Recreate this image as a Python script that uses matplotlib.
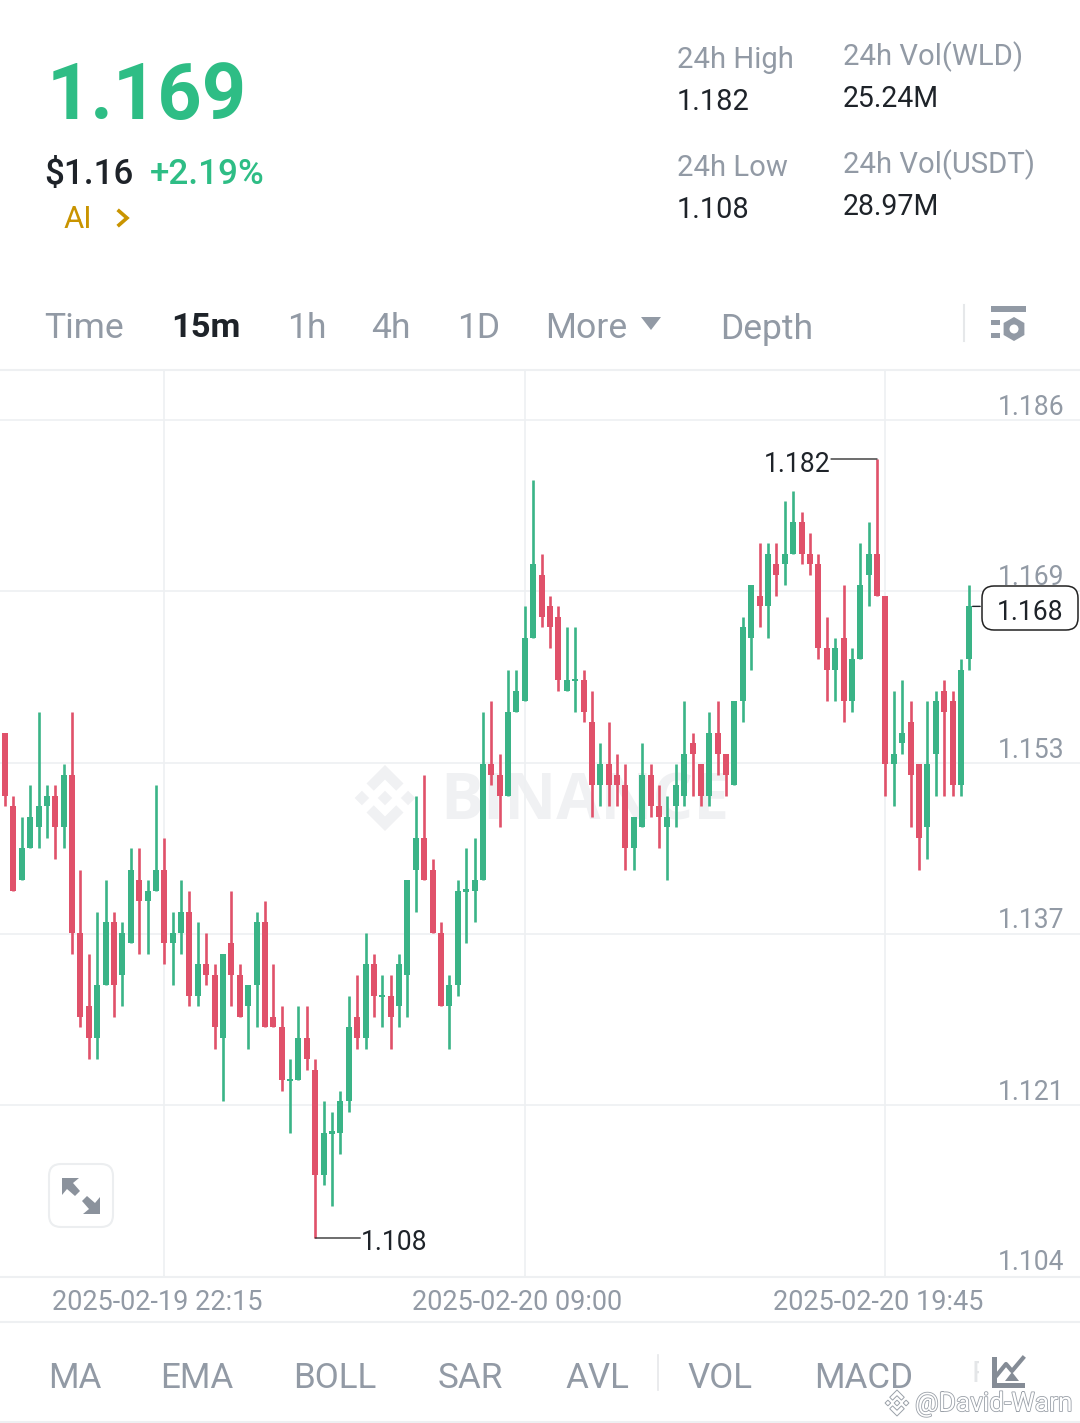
import matplotlib
matplotlib.use("Agg")
import matplotlib.pyplot as plt
import matplotlib.patheffects as pe
from matplotlib.patches import FancyBboxPatch, Polygon, Circle, RegularPolygon, Rectangle
from matplotlib.transforms import ScaledTranslation

# ---------- data (prices, read in 0.001 steps) ----------
opens = [1.156,1.149,1.142,1.145,1.147,1.149,1.150,1.147,1.152,1.137,1.130,1.127,1.132,1.138,1.133,1.136,1.142,1.140,1.141,1.143,
         1.136,1.137,1.139,1.131,1.134,1.133,1.127,1.136,1.133,1.130,1.132,1.138,1.129,1.128,1.123,1.123,1.127,1.124,1.114,1.118,
         1.118,1.121,1.129,1.127,1.134,1.131,1.131,1.130,1.133,1.143,1.146,1.143,1.137,1.130,1.132,1.141,1.141,1.142,1.153,1.152,
         1.150,1.158,1.159,1.165,1.171,1.168,1.167,1.160,1.161,1.161,1.157,1.151,1.153,1.152,1.151,1.145,1.147,1.152,1.149,1.147,
         1.149,1.150,1.155,1.153,1.150,1.156,1.154,1.151,1.159,1.165,1.169,1.168,1.172,1.172,1.173,1.176,1.173,1.172,1.164,1.162,
         1.165,1.159,1.163,1.171,1.173,1.169,1.153,1.155,1.157,1.153,1.147,1.154,1.160,1.159,1.151,1.163]
highs = [1.156,1.150,1.148,1.151,1.158,1.151,1.151,1.153,1.158,1.143,1.135,1.139,1.142,1.139,1.138,1.145,1.145,1.142,1.151,1.146,
         1.139,1.142,1.141,1.138,1.137,1.134,1.135,1.141,1.134,1.132,1.139,1.140,1.134,1.130,1.125,1.130,1.130,1.125,1.121,1.120,
         1.122,1.131,1.133,1.137,1.135,1.133,1.133,1.135,1.142,1.150,1.152,1.144,1.138,1.133,1.142,1.145,1.146,1.158,1.159,1.154,
         1.162,1.162,1.168,1.180,1.173,1.169,1.168,1.166,1.166,1.162,1.160,1.155,1.157,1.154,1.153,1.148,1.155,1.153,1.151,1.150,
         1.153,1.159,1.156,1.153,1.158,1.159,1.154,1.159,1.167,1.170,1.174,1.174,1.174,1.178,1.179,1.177,1.175,1.173,1.167,1.165,
         1.170,1.164,1.174,1.176,1.182,1.169,1.160,1.161,1.159,1.153,1.159,1.160,1.161,1.160,1.163,1.170]
lows = [1.149,1.141,1.142,1.145,1.145,1.146,1.144,1.145,1.135,1.128,1.125,1.125,1.132,1.129,1.130,1.136,1.135,1.135,1.141,1.134,
        1.132,1.135,1.130,1.130,1.132,1.126,1.121,1.130,1.129,1.126,1.128,1.128,1.128,1.122,1.118,1.123,1.124,1.108,1.113,1.111,
        1.116,1.120,1.126,1.126,1.129,1.128,1.126,1.128,1.129,1.139,1.142,1.137,1.130,1.126,1.131,1.136,1.138,1.142,1.151,1.147,
        1.150,1.158,1.159,1.165,1.166,1.164,1.160,1.160,1.158,1.157,1.148,1.149,1.149,1.149,1.143,1.143,1.147,1.148,1.145,1.142,
        1.147,1.149,1.150,1.149,1.149,1.152,1.150,1.151,1.157,1.162,1.166,1.165,1.169,1.170,1.173,1.172,1.171,1.163,1.159,1.159,
        1.157,1.158,1.163,1.168,1.169,1.150,1.149,1.154,1.147,1.143,1.144,1.150,1.150,1.150,1.150,1.162]
closes = [1.150,1.141,1.145,1.148,1.149,1.150,1.147,1.152,1.137,1.129,1.127,1.132,1.138,1.132,1.137,1.143,1.140,1.141,1.143,1.136,
          1.137,1.139,1.131,1.134,1.133,1.128,1.135,1.133,1.129,1.132,1.138,1.128,1.128,1.123,1.123,1.127,1.125,1.114,1.118,1.118,
          1.121,1.128,1.127,1.134,1.131,1.131,1.129,1.134,1.142,1.146,1.142,1.137,1.130,1.132,1.141,1.141,1.142,1.153,1.152,1.150,
          1.158,1.160,1.165,1.172,1.167,1.166,1.161,1.161,1.161,1.158,1.151,1.153,1.151,1.151,1.145,1.148,1.152,1.149,1.148,1.148,
          1.151,1.154,1.154,1.150,1.156,1.154,1.152,1.159,1.166,1.170,1.168,1.173,1.171,1.173,1.176,1.173,1.172,1.164,1.162,1.164,
          1.159,1.163,1.170,1.173,1.169,1.153,1.154,1.156,1.152,1.146,1.153,1.159,1.158,1.151,1.162,1.168]

y_grid_prices = [1.1857, 1.1695, 1.1531, 1.1369, 1.1206]
y_tick_labels = ["1.186", "1.169", "1.153", "1.137", "1.121"]
bottom_price = 1.1043
bottom_label = "1.104"
x_tick_index = [19, 62, 105]
x_tick_labels = ["2025-02-19 22:15", "2025-02-20 09:00", "2025-02-20 19:45"]
high_index, high_price, low_index, low_price = 104, 1.182, 37, 1.108
last_index, last_price = 115, 1.168

GREEN = "#3AB487"; RED = "#E0516A"; TXT_GREEN = "#2EBD85"
GRAY = "#929AA5"; DARK = "#1E2329"; GOLD = "#C99400"; LINE = "#EEF0F2"
FONT = "Roboto"

W, H = 1080, 1423
fig = plt.figure(figsize=(W/100, H/100), dpi=100, facecolor="white")
plt.rcParams["font.family"] = [FONT, "DejaVu Sans"]

def make_px_axes(z):
    a = fig.add_axes([0, 0, 1, 1], zorder=z)
    a.set_xlim(0, W); a.set_ylim(H, 0); a.axis("off"); a.patch.set_alpha(0)
    return a

under = make_px_axes(1)
ui = make_px_axes(3)

def T(a, x, y, s, px, color=GRAY, weight="normal", ha="left", **kw):
    return a.text(x, y+2, s, fontsize=px*0.72, color=color, fontweight=weight, ha=ha, va="center", **kw)

# ---------- watermark ----------
wm = "#F0F1F3"
cx, cy, r = 385, 798, 33
def logo(a, cx, cy, r, **kw):
    a.add_patch(Polygon([(cx, cy-.22*r), (cx+.22*r, cy), (cx, cy+.22*r), (cx-.22*r, cy)], **kw))
    for d in (-1, 1):
        c = cx + d*.7*r
        a.add_patch(Polygon([(c, cy-.22*r), (c+.22*r, cy), (c, cy+.22*r), (c-.22*r, cy)], **kw))
        pts = [(0, 1), (.56, .44), (.34, .22), (0, .56), (-.34, .22), (-.56, .44)]
        a.add_patch(Polygon([(cx+p*r, cy+d*q*r) for p, q in pts], **kw))
logo(under, cx, cy, r, fc=wm, ec="none")
T(under, 440, 801, "BINANCE", 64, color=wm, weight="bold", family="Open Sans")

# ---------- chart ----------
px_per_candle = 8.385
px_per_unit = 10527.0
ax = fig.add_axes([0, (H-1277)/H, 1, (1277-370)/H], zorder=2)
ax.patch.set_alpha(0)
ax.set_xlim(-5/px_per_candle, (W-5)/px_per_candle)
ax.set_ylim(1.182-(1277-459)/px_per_unit, 1.182-(370-459)/px_per_unit)
for s in ax.spines.values():
    s.set_visible(False)

xs = list(range(len(opens)))
cols = [GREEN if c >= o else RED for o, c in zip(opens, closes)]
ax.vlines(xs, lows, highs, colors=cols, lw=1.9, zorder=3)
for x, o, c, col in zip(xs, opens, closes, cols):
    lo, hi = min(o, c), max(o, c)
    if hi == lo:
        hi += 0.00012; lo -= 0.00012
    ax.bar(x, hi-lo, bottom=lo, width=6.0/px_per_candle, color=col, zorder=4, linewidth=0)

TICK_PX = 26.5
ax.set_yticks(y_grid_prices, y_tick_labels)
ax.set_xticks(x_tick_index, x_tick_labels)
ax.grid(True, color=LINE, lw=1.2, zorder=0)
ax.yaxis.tick_right()
ax.tick_params(axis="y", length=0, pad=-59, labelcolor=GRAY, labelsize=TICK_PX*0.72)
ax.tick_params(axis="x", length=0, pad=8.7, labelcolor=GRAY, labelsize=27*0.72)
for lb in ax.get_yticklabels():
    lb.set_ha("left")
    lb.set_transform(lb.get_transform()+ScaledTranslation(0, 16/100, fig.dpi_scale_trans))
for lb in ax.get_xticklabels():
    lb.set_transform(lb.get_transform()+ScaledTranslation(-7.5/100, 0, fig.dpi_scale_trans))

ax.annotate(bottom_label, xy=(1, bottom_price), xycoords=("axes fraction", "data"),
            xytext=(-82, 14), textcoords="offset pixels", color=GRAY, fontsize=TICK_PX*.72, va="center", ha="left")

# high / low / last labels
ax.annotate("", xy=(high_index, high_price), xytext=(-46, 0), textcoords="offset pixels",
            arrowprops=dict(arrowstyle="-", color="#333333", lw=1, shrinkA=0, shrinkB=0), zorder=6)
ax.annotate("1.182", xy=(high_index, high_price), xytext=(-46, -5), textcoords="offset pixels",
            ha="right", va="center", fontsize=26.5*.72, color=DARK, zorder=6)
ax.annotate("", xy=(low_index, low_price), xytext=(45, 0), textcoords="offset pixels",
            arrowprops=dict(arrowstyle="-", color="#333333", lw=1, shrinkA=0, shrinkB=0), zorder=6)
ax.annotate("1.108", xy=(low_index, low_price), xytext=(46, -5), textcoords="offset pixels",
            ha="left", va="center", fontsize=26.5*.72, color=DARK, zorder=6)
ax.annotate("", xy=(last_index+.4, last_price), xytext=(last_index+1.3, last_price),
            arrowprops=dict(arrowstyle="-", color=DARK, lw=1, shrinkA=0, shrinkB=0))

# ---------- separators ----------
for y in (370, 1277, 1322, 1422):
    ui.plot([0, W], [y, y], color=LINE, lw=1.5, solid_capstyle="butt")
ui.plot([964, 964], [305, 341], color="#E6E8EA", lw=1.5)
ui.plot([658, 658], [1355, 1390], color="#E6E8EA", lw=1.2)

# last price box
ui.add_patch(FancyBboxPatch((982+10, 586+10), 96-20, 44-20, boxstyle="round,pad=10,rounding_size=12",
                            fc="white", ec="#222", lw=1.1, zorder=5))
T(ui, 1030, 611, "1.168", 26.5, color=DARK, ha="center", zorder=6)

# ---------- header ----------
T(ui, 47, 96, "1.169", 77.5, color=TXT_GREEN, weight="bold")
T(ui, 44.5, 172, "$1.16", 35, color=DARK, weight="medium")
T(ui, 150, 172, "+2.19%", 35, color=TXT_GREEN, weight="medium")
T(ui, 63, 218, "AI", 31, color=GOLD)
ui.plot([119, 127, 119], [211, 218, 225], color=GOLD, lw=2.6, solid_joinstyle="miter")

T(ui, 677, 58, "24h High", 29.2)
T(ui, 677, 100, "1.182", 29, color=DARK)
T(ui, 677, 166, "24h Low", 29.2)
T(ui, 677, 208, "1.108", 29, color=DARK)
T(ui, 843, 55, "24h Vol(WLD)", 29.2)
T(ui, 843, 97, "25.24M", 28.5, color=DARK)
T(ui, 843, 163, "24h Vol(USDT)", 29.2)
T(ui, 843, 205, "28.97M", 28.5, color=DARK)

# ---------- tabs ----------
for x, s in [(44, "Time"), (287, "1h"), (371, "4h"), (457, "1D"), (545, "More"), (720, "Depth")]:
    T(ui, x, 327, s, 35.5)
T(ui, 171, 326, "15m", 34.5, color=DARK, weight="bold")
ui.add_patch(Polygon([(641, 317), (661, 317), (651, 330)], fc=GRAY, ec="none"))

# settings icon
ui.add_patch(Rectangle((991, 306), 35, 6, fc=GRAY, ec="none"))
ui.add_patch(Rectangle((991, 320), 9, 5, fc=GRAY, ec="none"))
ui.add_patch(Rectangle((991, 333), 9, 5, fc=GRAY, ec="none"))
ui.add_patch(RegularPolygon((1014, 329), 6, radius=12, fc=GRAY, ec="none"))
ui.add_patch(Circle((1014, 329), 4.5, fc="white", ec="none"))

# expand button
ui.add_patch(FancyBboxPatch((49+12, 1164+12), 64-24, 63-24, boxstyle="round,pad=12,rounding_size=12",
                            fc="white", ec="#ECEEF0", lw=1.5))
for d, (a0, b0) in ((1, (62, 1178)), (-1, (100, 1214))):
    ui.add_patch(Polygon([(a0, b0), (a0+d*17, b0), (a0+d*11, b0+d*5), (a0+d*18, b0+d*13), (a0+d*13, b0+d*18),
                          (a0+d*5, b0+d*11), (a0, b0+d*17)], fc="#8B929C", ec="none"))

# ---------- bottom bar ----------
for x, s in [(48, "MA"), (160, "EMA"), (293, "BOLL"), (438, "SAR"), (565, "AVL"), (688, "VOL"), (814, "MACD")]:
    T(ui, x, 1377, s, 35)
rt = T(ui, 971, 1372, "R", 30, color="#E4E6E8")
rt.set_clip_on(True)
rt.set_clip_path(Rectangle((968, 1350), 11, 50, transform=ui.transData))
ui.add_patch(Rectangle((992, 1357), 5, 31, fc="#858C96", ec="none"))
ui.add_patch(Rectangle((992, 1383), 33, 5, fc="#858C96", ec="none"))
ui.plot([997, 1006, 1012, 1023], [1375, 1364, 1371, 1358], color="#858C96", lw=3)
ui.add_patch(Polygon([(1005, 1381), (1012, 1372), (1019, 1381)], fc="#858C96", ec="none"))

# corner credit
logo(ui, 897, 1403, 13, fc="white", ec="#9AA0A8", lw=.7)
ui.text(915, 1404, "@David-Warn", fontsize=26.3*.72, color="white", va="center", ha="left", zorder=7,
        path_effects=[pe.withStroke(linewidth=1.2, foreground="#9AA0A8")])

fig.savefig("out.png", dpi=100, facecolor="white")
